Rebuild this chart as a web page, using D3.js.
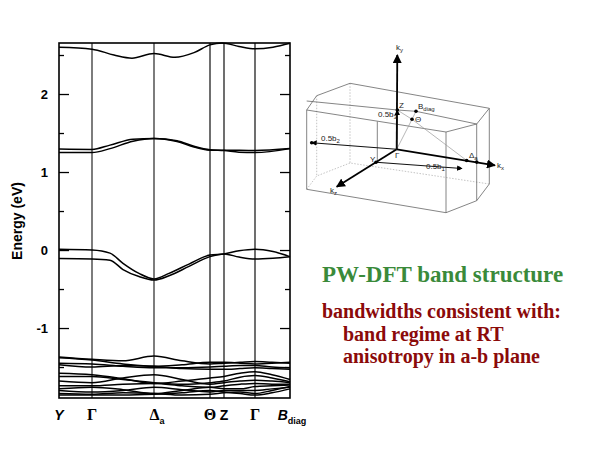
<!DOCTYPE html>
<html>
<head>
<meta charset="utf-8">
<title>PW-DFT band structure</title>
<script src="https://cdn.jsdelivr.net/npm/d3@7"></script>
<style>
	body{ margin:0; background:#fff; }
	svg text{ font-family: "Liberation Sans", Arial, sans-serif; }
	svg text.serif{ font-family: "Liberation Serif", "Times New Roman", serif; }
</style>
</head>
<body>
<div id="chart"></div>
<script>
	// k-path: high symmetry points (path length units)
	var kTicks = [0, 33, 95, 151, 165, 196, 231];
	var kNames = ['Y', 'Γ', 'Δ', 'Θ', 'Z', 'Γ', 'B'];
	var yTicks = [-1, 0, 1, 2];
	var yMinor = [-1.5, -0.5, 0.5, 1.5, 2.5];

	// bands: [k, energy eV]
	var condHigh = [[0,2.60],[33,2.575],[55,2.50],[73,2.46],[95,2.52],[116,2.47],[135,2.53],[151,2.63],[163,2.655],[180,2.61],[196,2.58],[214,2.60],[231,2.65]];
	var condMidA = [[0,1.295],[33,1.29],[51,1.345],[74,1.42],[95,1.43],[118,1.39],[135,1.32],[151,1.28],[165,1.28],[196,1.275],[231,1.30]];
	var condMidB = [[0,1.25],[33,1.25],[51,1.30],[74,1.395],[95,1.43],[118,1.40],[135,1.33],[151,1.285],[165,1.275],[180,1.255],[196,1.25],[231,1.30]];
	var valA = [[0,0.01],[33,0.0],[51,-0.04],[64,-0.17],[80,-0.30],[95,-0.37],[110,-0.30],[130,-0.18],[151,-0.065],[165,-0.05],[180,-0.01],[196,0.01],[214,-0.02],[231,-0.085]];
	var valB = [[0,-0.11],[33,-0.115],[51,-0.13],[64,-0.25],[80,-0.34],[95,-0.385],[110,-0.33],[130,-0.21],[151,-0.085],[165,-0.05],[180,-0.09],[196,-0.115],[214,-0.105],[231,-0.085]];

	// deep valence cluster, energies at these k
	var clusterK = [0, 33, 64, 95, 123, 151, 165, 181, 196, 213, 231];
	var cluster = [
		[-1.37,-1.40,-1.42,-1.36,-1.42,-1.46,-1.45,-1.44,-1.43,-1.44,-1.45],
		[-1.38,-1.41,-1.46,-1.49,-1.47,-1.44,-1.44,-1.45,-1.46,-1.45,-1.44],
		[-1.45,-1.46,-1.49,-1.51,-1.51,-1.50,-1.49,-1.48,-1.48,-1.50,-1.51],
		[-1.47,-1.50,-1.48,-1.49,-1.52,-1.53,-1.53,-1.52,-1.51,-1.52,-1.53],
		[-1.58,-1.60,-1.65,-1.71,-1.68,-1.64,-1.62,-1.58,-1.56,-1.60,-1.66],
		[-1.62,-1.62,-1.66,-1.70,-1.72,-1.70,-1.68,-1.63,-1.61,-1.64,-1.69],
		[-1.68,-1.70,-1.64,-1.60,-1.66,-1.72,-1.70,-1.68,-1.67,-1.68,-1.70],
		[-1.74,-1.74,-1.72,-1.71,-1.74,-1.76,-1.74,-1.72,-1.71,-1.72,-1.72],
		[-1.78,-1.76,-1.79,-1.84,-1.80,-1.76,-1.78,-1.78,-1.75,-1.74,-1.73],
		[-1.80,-1.82,-1.80,-1.76,-1.79,-1.82,-1.80,-1.80,-1.80,-1.78,-1.76],
		[-1.84,-1.85,-1.83,-1.84,-1.86,-1.85,-1.83,-1.82,-1.84,-1.80,-1.75],
		[-1.86,-1.86,-1.86,-1.85,-1.83,-1.80,-1.82,-1.84,-1.86,-1.83,-1.78]
	];

	var svg = d3.select('#chart').append('svg')
			.attr('width', 600).attr('height', 450);

	var x = d3.scaleLinear().domain([0, 231]).range([59, 290]);
	var y = d3.scaleLinear().domain([-1.897, 2.654]).range([398, 43]);

	var plot = svg.append('g');

	// symmetry lines
	plot.selectAll('.sym')
		.data(kTicks.slice(1, 6))
		.enter().append('line')
		.attr('class', 'sym')
		.attr('x1', function(d){ return x(d); })
		.attr('x2', function(d){ return x(d); })
		.attr('y1', y.range()[1]).attr('y2', y.range()[0])
		.style('stroke', function(d, i){ return i < 2 ? '#111' : '#555'; })
		.style('stroke-width', function(d, i){ return i < 2 ? 1.1 : 1.7; });

	var line = d3.line()
		.x(function(d){ return x(d[0]); })
		.y(function(d){ return y(d[1]); })
		.curve(d3.curveMonotoneX);

	var bands = [condHigh, condMidA, condMidB, valA, valB];
	cluster.forEach(function(b){
		bands.push(b.map(function(e, i){ return [clusterK[i], e]; }));
	});

	plot.selectAll('.band')
		.data(bands)
		.enter().append('path')
		.attr('class', 'band')
		.attr('d', line)
		.style('fill', 'none')
		.style('stroke', '#000')
		.style('stroke-width', 1.5);

	// axes (inward ticks)
	var left = svg.append('g').attr('transform', 'translate(' + x(0) + ',0)')
		.call(d3.axisLeft(y).tickValues(yTicks).tickSize(-10).tickPadding(11)
			.tickFormat(function(d){ return String(d); }));
	left.selectAll('text').style('font-size', '13px').style('font-weight', 'bold')
		.style('font-family', '"Liberation Sans", Arial, sans-serif');
	svg.append('g').attr('transform', 'translate(' + x(0) + ',0)')
		.call(d3.axisLeft(y).tickValues(yMinor).tickSize(-5).tickFormat(''));
	svg.append('g').attr('transform', 'translate(' + x(231) + ',0)')
		.call(d3.axisRight(y).tickValues(yTicks).tickSize(-10).tickFormat(''));
	svg.append('g').attr('transform', 'translate(' + x(231) + ',0)')
		.call(d3.axisRight(y).tickValues(yMinor).tickSize(-5).tickFormat(''));
	svg.selectAll('.domain').remove();
	svg.selectAll('.tick line').style('stroke', '#000').style('stroke-width', 1.3);

	svg.append('rect')
		.attr('x', x(0)).attr('y', y.range()[1])
		.attr('width', x(231) - x(0)).attr('height', y.range()[0] - y.range()[1])
		.style('fill', 'none').style('stroke', '#000').style('stroke-width', 1.6);

	svg.append('text')
		.attr('transform', 'translate(22,221) rotate(-90)')
		.attr('text-anchor', 'middle')
		.style('font-size', '14px').style('font-weight', 'bold')
		.text('Energy (eV)');

	// k labels
	var kl = svg.append('g').attr('class', 'klabels');
	kNames.forEach(function(n, i){
		var t = kl.append('text')
			.attr('x', x(kTicks[i])).attr('y', 420)
			.attr('text-anchor', 'middle')
			.style('font-weight', 'bold');
		if (n == 'Γ' || n == 'Δ' || n == 'Θ'){
			t.attr('class', 'serif').style('font-size', '16px');
		}else{
			t.style('font-size', '14px').style('font-style', 'italic');
		}
		if (n == 'Δ'){
			t.attr('x', x(kTicks[i]) + 3);
			t.append('tspan').text('Δ');
			t.append('tspan').attr('dy', 4).style('font-family', '"Liberation Sans", Arial, sans-serif')
				.style('font-size', '9px').text('a');
		}else if (n == 'B'){
			t.attr('x', x(kTicks[i]) + 2);
			t.append('tspan').text('B');
			t.append('tspan').attr('dy', 4).style('font-style', 'normal')
				.style('font-size', '9px').text('diag');
		}else if (n == 'Z'){
			t.style('font-style', 'normal').text(n);
		}else{
			t.text(n);
		}
	});

	// Brillouin zone inset (diagram units = pixels)
	var G = [396.7, 149.3];
	var bzSolid = [
		[[306.7,110],[446,132],[446,212.7],[306.7,189.3],[306.7,110]],
		[[306.7,110],[316.7,95.7],[350,83.3],[489.3,108.3],[476.7,124],[446,132]],
		[[476.7,124],[476.7,200.7]],
		[[489.3,108.3],[489.3,184],[476.7,200.7],[446,212.7]],
		[[377.3,121.5],[377.3,162.5]],
		[[397.3,110],[416,111.3],[476.7,124]],
		[[306.7,101],[397.3,110]]
	];
	var bzHidden = [
		[[350,83.3],[350,163],[489.3,184]],
		[[350,163],[316.7,176],[306.7,189.3]],
		[[316.7,95.7],[316.7,176]]
	];
	var bzThin = [
		[G,[412,119.3]], [[397.3,110],[412,119.3]], [[412,119.3],[466.7,160.5]], [[416,111.3],[412,119.3]]
	];
	var bzAxes = [
		[G,[397.3,55]], [G,[495,165.3]], [G,[336.7,186.7]]
	];
	var bzArrows = [
		[G,[311.7,142.7]], [[376,162.3],[462,168.5]], [G,[397.3,110]]
	];
	var bzDots = [[397.3,110],[416,111.3],[412,119.3],[376,162.3],[466.7,160.5],[476.7,162.1],[311.7,142.7],[459,168.3]];

	var defs = svg.append('defs');
	defs.append('marker').attr('id', 'arr')
		.attr('viewBox', '0 0 10 10').attr('refX', 9).attr('refY', 5)
		.attr('markerWidth', 5).attr('markerHeight', 5).attr('orient', 'auto')
		.append('path').attr('d', 'M0,0L10,5L0,10z').style('fill', '#000');

	var bz = svg.append('g');
	var pl = d3.line();
	bz.selectAll('.hid').data(bzHidden).enter().append('path')
		.attr('d', pl).style('fill', 'none').style('stroke', '#aaa')
		.style('stroke-width', 0.7).style('stroke-dasharray', '1.5,1.5');
	bz.selectAll('.sol').data(bzSolid).enter().append('path')
		.attr('d', pl).style('fill', 'none').style('stroke', '#666').style('stroke-width', 0.8);
	bz.selectAll('.thin').data(bzThin).enter().append('path')
		.attr('d', pl).style('fill', 'none').style('stroke', '#999').style('stroke-width', 0.7);
	bz.selectAll('.ax').data(bzAxes).enter().append('path')
		.attr('d', pl).style('fill', 'none').style('stroke', '#000').style('stroke-width', 1.8)
		.attr('marker-end', 'url(#arr)');
	bz.selectAll('.ar').data(bzArrows).enter().append('path')
		.attr('d', pl).style('fill', 'none').style('stroke', '#111').style('stroke-width', 1.1)
		.attr('marker-end', 'url(#arr)');
	bz.selectAll('.dot').data(bzDots).enter().append('circle')
		.attr('cx', function(d){ return d[0]; }).attr('cy', function(d){ return d[1]; })
		.attr('r', 1.8).style('fill', '#000');

	var bzLabels = [
		{ t: 'k', s: 'y', x: 396, y: 50 },
		{ t: 'Z', s: '', x: 399, y: 108 },
		{ t: 'B', s: 'diag', x: 418, y: 109 },
		{ t: 'Θ', s: '', x: 415, y: 122 },
		{ t: '0.5b', s: '3', x: 378, y: 117 },
		{ t: '0.5b', s: '2', x: 321, y: 141 },
		{ t: 'Γ', s: '', x: 395, y: 158 },
		{ t: 'Y', s: '', x: 370, y: 162 },
		{ t: 'Δ', s: 'a', x: 469, y: 158 },
		{ t: '0.5b', s: '1', x: 426, y: 169 },
		{ t: 'k', s: 'x', x: 497, y: 168 },
		{ t: 'k', s: 'z', x: 330, y: 193 }
	];
	bzLabels.forEach(function(d){
		var t = bz.append('text').attr('x', d.x).attr('y', d.y)
			.style('font-size', '8px').style('fill', '#222');
		t.append('tspan').text(d.t);
		if (d.s) t.append('tspan').attr('dy', 2).style('font-size', '6px').text(d.s);
	});

	// right-hand text
	var notes = svg.append('g');
	notes.append('text').attr('class', 'serif').attr('x', 322).attr('y', 282)
		.style('font-size', '23px').style('font-weight', 'bold').style('fill', '#3a8a3a')
		.text('PW-DFT band structure');
	var noteLines = ['bandwidths consistent with:', 'band regime at RT', 'anisotropy in a-b plane'];
	notes.selectAll('.note').data(noteLines).enter().append('text')
		.attr('class', 'serif')
		.attr('x', function(d, i){ return i == 0 ? 322 : 343; })
		.attr('y', function(d, i){ return [318, 341, 363][i]; })
		.style('font-size', '20px').style('font-weight', 'bold').style('fill', '#8b0a0a')
		.text(function(d){ return d; });
</script>
</body>
</html>
